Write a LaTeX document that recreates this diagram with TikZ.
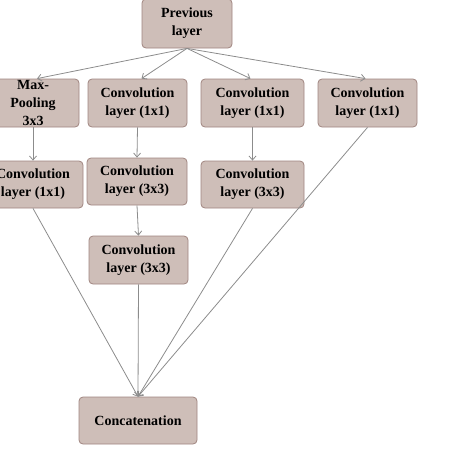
\documentclass[tikz,border=0pt]{standalone}
\usepackage{fontspec}
\setmainfont{Liberation Serif}
\usetikzlibrary{arrows.meta}
\definecolor{boxfill}{RGB}{206,190,184}
\definecolor{boxline}{RGB}{160,133,128}
\definecolor{linegray}{RGB}{140,140,140}
\begin{document}
\begin{tikzpicture}[x=1pt,y=-1pt,
  layer/.style={draw=boxline, fill=boxfill, line width=0.8pt, rounded corners=4pt,
    align=center, inner sep=0pt, font=\fontsize{14}{18}\selectfont\bfseries},
  conn/.style={draw=linegray, line width=0.8pt, -{Straight Barb[length=4pt,width=7pt]}}]
\useasboundingbox (0,0) rectangle (474,474);
\node[layer, minimum width=90pt, minimum height=49pt] (prev) at (187,23.5) {Previous\\layer};
\node[layer, minimum width=92pt, minimum height=48pt] (mp) at (33,103) {Max-\\Pooling\\3x3};
\node[layer, minimum width=99pt, minimum height=48pt] (c2) at (137.5,103) {Convolution\\layer (1x1)};
\node[layer, minimum width=103pt, minimum height=48pt] (c3) at (252.5,103) {Convolution\\layer (1x1)};
\node[layer, minimum width=99pt, minimum height=48pt] (c4) at (367.5,103) {Convolution\\layer (1x1)};
\node[layer, minimum width=100pt, minimum height=47pt] (r2a) at (33,184.5) {Convolution\\layer (1x1)};
\node[layer, minimum width=100pt, minimum height=47pt] (r2b) at (137,181.5) {Convolution\\layer (3x3)};
\node[layer, minimum width=103pt, minimum height=47pt] (r2c) at (252.5,184.5) {Convolution\\layer (3x3)};
\node[layer, minimum width=99pt, minimum height=48pt] (r3) at (138.5,260) {Convolution\\layer (3x3)};
\node[layer, minimum width=118pt, minimum height=47pt] (cat) at (138,420.5) {Concatenation};
\draw[conn] (prev.south) -- ([xshift=4pt]mp.north);
\draw[conn] (prev.south) -- ([xshift=4pt]c2.north);
\draw[conn] (prev.south) -- ([xshift=-2pt]c3.north);
\draw[conn] (prev.south) -- ([xshift=-2pt]c4.north);
\draw[conn] (mp.south) -- (r2a.north);
\draw[conn] (c2.south) -- (r2b.north);
\draw[conn] (c3.south) -- (r2c.north);
\draw[conn] (r2b.south) -- (r3.north);
\draw[conn] (r2a.south) -- (cat.north);
\draw[conn] (r3.south) -- (cat.north);
\draw[conn] (r2c.south) -- (cat.north);
\draw[conn] (c4.south) -- (cat.north);
\end{tikzpicture}
\end{document}
